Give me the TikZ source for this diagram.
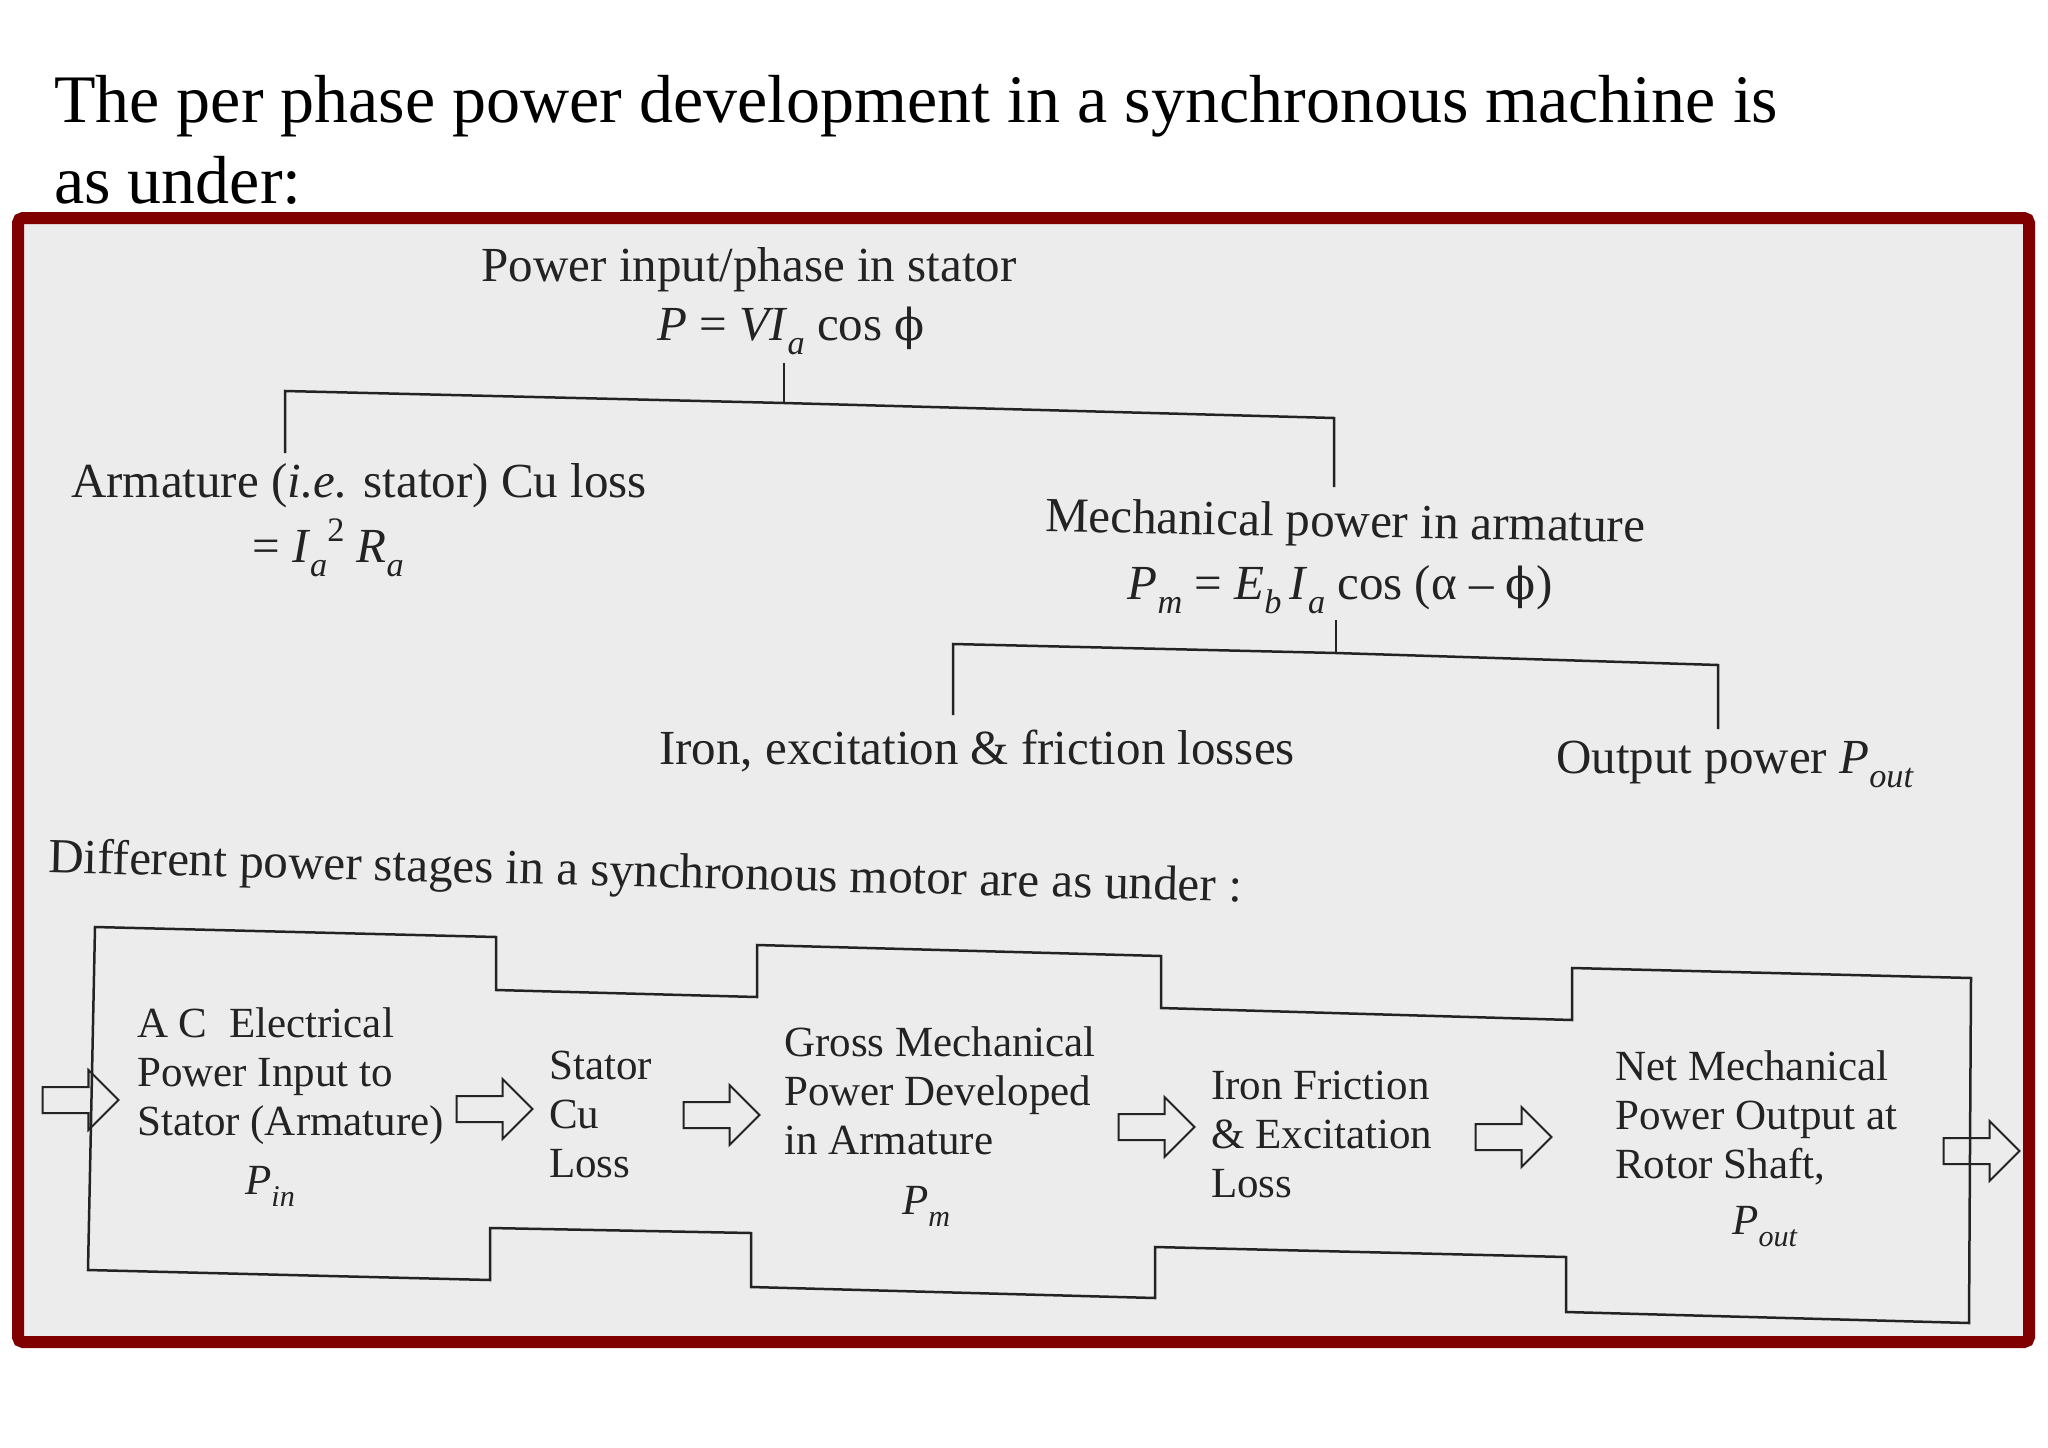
\documentclass[tikz,border=0pt]{standalone}
\usepackage{fontspec}
\setmainfont{Liberation Serif}
\newfontfamily\grk{DejaVu Serif}
\usepackage{graphicx}
\usetikzlibrary{positioning,shapes.arrows}

\definecolor{boxred}{RGB}{128,0,0}
\definecolor{paper}{RGB}{236,236,236}
\definecolor{ink}{RGB}{35,35,35}

\newcommand{\lo}[1]{\raisebox{-.3em}{\scalebox{.7}{#1}}}
\newcommand{\up}[1]{\raisebox{.42em}{\scalebox{.7}{#1}}}
\newcommand{\fii}{{\grk\scalebox{.9}{ϕ}}}

\begin{document}
\begin{tikzpicture}[x=1pt,y=-1pt,
	title/.style={anchor=base west,inner sep=0pt,font=\fontsize{68}{81}\selectfont},
	tree/.style={anchor=base,inner sep=0pt,text=ink,font=\fontsize{49}{56}\selectfont},
	stage/.style={anchor=north west,inner sep=0pt,align=left,text=ink,font=\fontsize{43}{49}\selectfont},
	flow/.style={draw=ink,line width=2pt,single arrow,minimum height=76pt,text height=12pt,text depth=12pt,single arrow head extend=17pt,inner sep=0pt},
	link/.style={draw=ink,line width=2.5pt}]

	\useasboundingbox (0,0) rectangle (2048,1448);
	\fill[white] (0,0) rectangle (2048,1448);
	\draw[boxred,line width=12pt,fill=paper,rounded corners=5pt] (18,218) rectangle (2029,1342);

	\node[title]			(l1)	at (54,122)		{The per phase power development in a synchronous machine is};
	\node[title]			(l2)	at (54,203)		{as under:};

	% power split
	\node[tree]				(pis)	at (749,281)	{Power input/phase in stator};
	\node[tree]				(pf)	at (791,340)	{\textit{P} = \textit{VI}\lo{\textit{a}} cos \fii};
	\node[tree]				(arm)	at (359,497)	{Armature (\textit{i.e.} stator) Cu loss};
	\node[tree]				(ia)	at (328,562)	{= \textit{I}\lo{\textit{a}}\up{2} \textit{R}\lo{\textit{a}}};
	\node[tree,rotate=-1]	(mech)	at (1345,537)	{Mechanical power in armature};
	\node[tree]				(pm)	at (1340,599)	{\textit{P}\lo{\textit{m}} = \textit{E}\lo{\textit{b}}\,\textit{I}\lo{\textit{a}} cos (α -- \fii)};
	\node[tree]				(iron)	at (977,764)	{Iron, excitation \& friction losses};
	\node[tree]				(out)	at (1735,773)	{Output power \textit{P}\lo{\textit{out}}};

	\coordinate (t1) at (784,363);	\coordinate (j1) at (784,403);
	\coordinate (b1l) at (285,391);	\coordinate (b1r) at (1334,418);
	\coordinate (t2) at (1336,620);	\coordinate (j2) at (1336,653);
	\coordinate (b2l) at (953,644);	\coordinate (b2r) at (1718,665);

	\draw[link] (t1) -- (j1);
	\draw[link] (b1l |- 0,453) -- (b1l) -- (j1) -- (b1r) -- (b1r |- 0,487);
	\draw[link] (t2) -- (j2);
	\draw[link] (b2l |- 0,715) -- (b2l) -- (j2) -- (b2r) -- (b2r |- 0,729);

	\node[tree,rotate=-1.4]	(stages)	at (645,887)	{Different power stages in a synchronous motor are as under :};

	% power stages
	\draw[link] (95,927) -- (496,937) -- (496,990) -- (757,997) -- (757,945) -- (1161,956)
		-- (1161,1008) -- (1572,1020) -- (1572,968) -- (1971,978) -- (1969,1323) -- (1566,1312)
		-- (1566,1257) -- (1155,1247) -- (1155,1298) -- (751,1287) -- (751,1233) -- (490,1228)
		-- (490,1280) -- (88,1270) -- cycle;

	\node[stage]			(s1)	at (137,1007)	{A C\ \ Electrical\\Power Input to\\Stator (Armature)};
	\node[stage,anchor=base]	(pin)	at (270,1194)	{\textit{P}\lo{\textit{in}}};
	\node[stage]			(s2)	at (549,1051)	{Stator\\Cu\\Loss};
	\node[stage]			(s3)	at (784,1026)	{Gross Mechanical\\Power Developed\\in Armature};
	\node[stage,anchor=base]	(pmd)	at (926,1214)	{\textit{P}\lo{\textit{m}}};
	\node[stage]			(s4)	at (1211,1071)	{Iron Friction\\\&\ Excitation\\Loss};
	\node[stage]			(s5)	at (1615,1050)	{Net Mechanical\\Power Output at\\Rotor Shaft,};
	\node[stage,anchor=base]	(pout)	at (1765,1234)	{\textit{P}\lo{\textit{out}}};

	\node[flow]	(a0)	at (74,1100)	{};
	\node[flow]	(a1)	at (488,1109)	{};
	\node[flow]	(a2)	at (715,1115)	{};
	\node[flow]	(a3)	at (1150,1127)	{};
	\node[flow]	(a4)	at (1507,1137)	{};
	\node[flow]	(a5)	at (1975,1151)	{};
\end{tikzpicture}
\end{document}
